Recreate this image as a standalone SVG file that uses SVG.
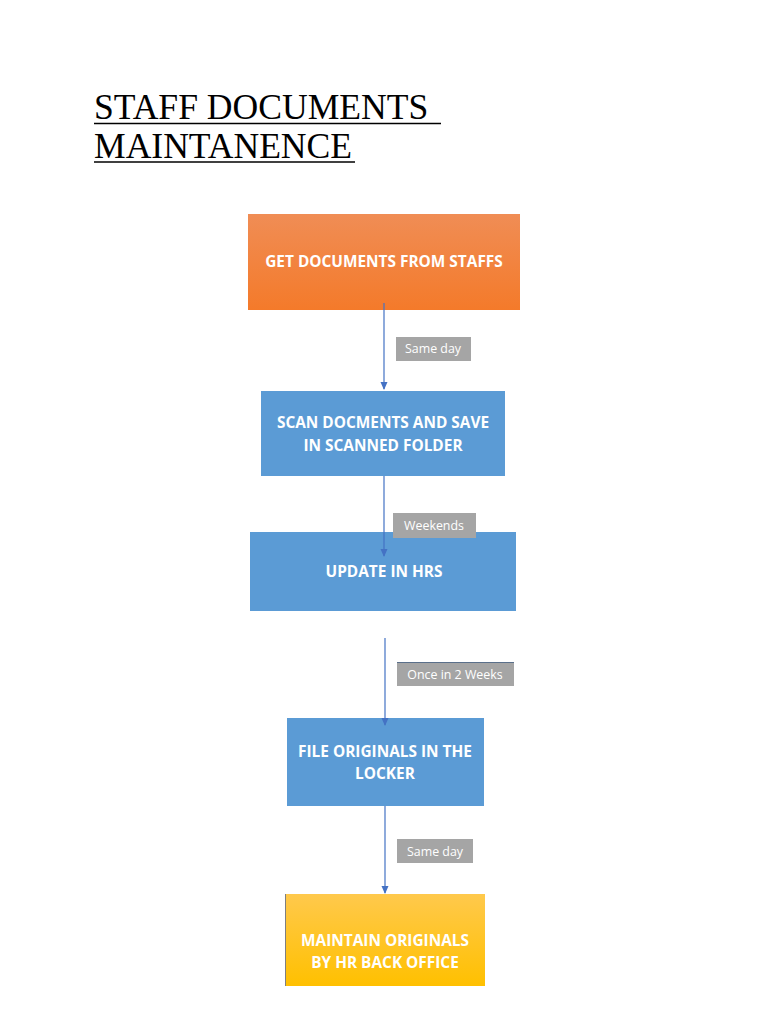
<svg xmlns="http://www.w3.org/2000/svg" width="768" height="1024" viewBox="0 0 768 1024">
<style>
.title{font-family:"Liberation Serif","Times New Roman",serif;font-size:35.6px;fill:#000}
.bt{font-family:"Open Sans","Liberation Sans",sans-serif;font-weight:bold;font-size:15.4px;fill:#fff;text-anchor:middle}
.lt{font-family:"Open Sans","Liberation Sans",sans-serif;font-size:12.4px;fill:#fff;text-anchor:middle}
.lab{fill:#a5a5a5}
.blue{fill:#5b9bd5}
.conn{stroke:#4472c4;stroke-width:1.2;fill:none}
</style>
<defs>
<linearGradient id="og" x1="0" y1="0" x2="0" y2="1"><stop offset="0" stop-color="#f08d55"/><stop offset="1" stop-color="#f47a2a"/></linearGradient>
<linearGradient id="yg" x1="0" y1="0" x2="0" y2="1"><stop offset="0" stop-color="#ffc94c"/><stop offset="1" stop-color="#ffc000"/></linearGradient>
<marker id="ah" markerWidth="8" markerHeight="8" refX="7" refY="4" orient="auto" markerUnits="userSpaceOnUse"><path d="M0,0.5 L8,4 L0,7.5 Z" fill="#4472c4"/></marker>
</defs>
<rect width="768" height="1024" fill="#fff"/>
<g id="title">
<text class="title" x="94" y="119">STAFF DOCUMENTS</text>
<line x1="94" y1="123.5" x2="441" y2="123.5" stroke="#000" stroke-width="1.5"/>
<text class="title" x="94" y="158">MAINTANENCE</text>
<line x1="94" y1="162" x2="355" y2="162" stroke="#000" stroke-width="1.5"/>
</g>
<g id="n1">
<rect x="248" y="214" width="272" height="96" fill="url(#og)"/>
<text class="bt" x="384" y="267">GET DOCUMENTS FROM STAFFS</text>
</g>
<g id="n2">
<rect class="blue" x="261" y="391" width="244" height="85"/>
<text class="bt" x="383" y="428">SCAN DOCMENTS AND SAVE</text>
<text class="bt" x="383" y="451">IN SCANNED FOLDER</text>
</g>
<g id="n3">
<rect class="blue" x="250" y="532" width="266" height="79"/>
<text class="bt" x="384" y="577">UPDATE IN HRS</text>
</g>
<g id="n4">
<rect class="blue" x="287" y="718" width="197" height="88"/>
<text class="bt" x="385" y="757">FILE ORIGINALS IN THE</text>
<text class="bt" x="385" y="779">LOCKER</text>
</g>
<g id="n5">
<rect x="285" y="894" width="200" height="92" fill="url(#yg)"/>
<line x1="285.5" y1="894" x2="285.5" y2="986" stroke="#7f7f7f" stroke-width="1"/>
<text class="bt" x="385" y="946">MAINTAIN ORIGINALS</text>
<text class="bt" x="385" y="968">BY HR BACK OFFICE</text>
</g>
<g id="connectors">
<line class="conn" x1="384" y1="303" x2="384" y2="389" marker-end="url(#ah)"/>
<line class="conn" x1="384" y1="476" x2="384" y2="556" marker-end="url(#ah)"/>
<line class="conn" x1="385" y1="638" x2="385" y2="725" marker-end="url(#ah)"/>
<line class="conn" x1="385" y1="806" x2="385" y2="893" marker-end="url(#ah)"/>
</g>
<g id="labels">
<rect class="lab" x="396" y="337" width="75" height="24"/>
<text class="lt" x="433" y="353">Same day</text>
<rect class="lab" x="393" y="513" width="83" height="25"/>
<text class="lt" x="434" y="530">Weekends</text>
<rect class="lab" x="397" y="662" width="117" height="24"/>
<line x1="397" y1="662.5" x2="514" y2="662.5" stroke="#5a6f8a" stroke-width="1"/>
<text class="lt" x="455" y="679">Once in 2 Weeks</text>
<rect class="lab" x="397" y="839" width="76" height="24"/>
<text class="lt" x="435" y="856">Same day</text>
</g>
</svg>
